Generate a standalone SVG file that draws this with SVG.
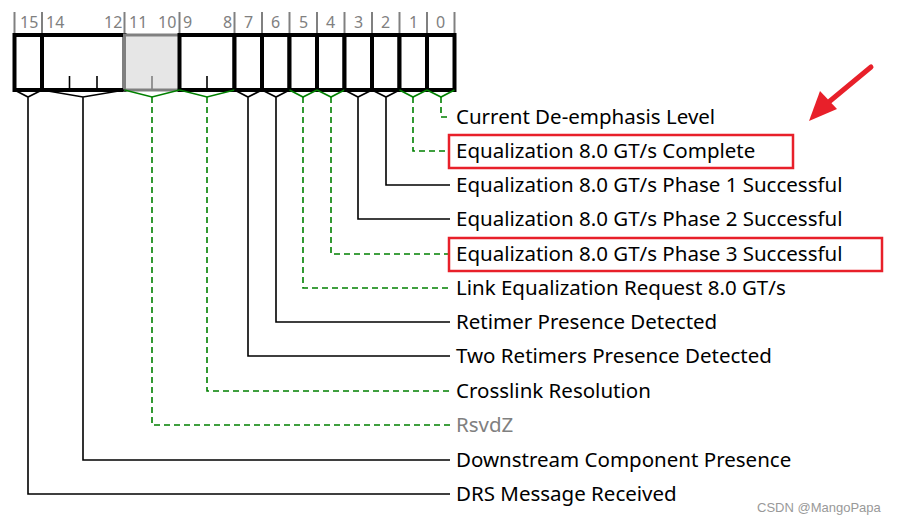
<svg xmlns="http://www.w3.org/2000/svg" width="902" height="525" viewBox="0 0 902 525">
<style>
text{font-family:"Noto Sans","Liberation Sans",sans-serif}
.n{font-size:16px;fill:#808080}
.l{font-size:20.5px;fill:#000}
.tk{stroke:#808080;stroke-width:2}
.b{fill:#fff;stroke:#000;stroke-width:4}
.k{stroke:#000;stroke-width:1.6;fill:none}
.g{stroke:#008000;stroke-width:1.6;fill:none}
.gd{stroke:#008000;stroke-width:1.6;fill:none;stroke-dasharray:6,4}
.r{fill:none;stroke:#e8202a;stroke-width:2.5}
</style>
<g id="ruler">
<g class="tk">
<line x1="14.5" y1="12" x2="14.5" y2="35"/><line x1="42" y1="12" x2="42" y2="35"/><line x1="124.5" y1="12" x2="124.5" y2="35"/><line x1="179.5" y1="12" x2="179.5" y2="35"/><line x1="234.5" y1="12" x2="234.5" y2="35"/><line x1="262" y1="12" x2="262" y2="35"/><line x1="289.5" y1="12" x2="289.5" y2="35"/><line x1="317" y1="12" x2="317" y2="35"/><line x1="344.5" y1="12" x2="344.5" y2="35"/><line x1="372" y1="12" x2="372" y2="35"/><line x1="399.5" y1="12" x2="399.5" y2="35"/><line x1="427" y1="12" x2="427" y2="35"/><line x1="454.5" y1="12" x2="454.5" y2="35"/>
</g>
<text class="n" x="20" y="28">15</text><text class="n" x="46" y="28">14</text><text class="n" x="104" y="28">12</text>
<text class="n" x="129" y="28">11</text><text class="n" x="158" y="28">10</text>
<text class="n" x="183" y="28">9</text><text class="n" x="223" y="28">8</text>
<text class="n" x="244" y="28">7</text><text class="n" x="271" y="28">6</text><text class="n" x="299" y="28">5</text><text class="n" x="326" y="28">4</text><text class="n" x="354" y="28">3</text><text class="n" x="381" y="28">2</text><text class="n" x="409" y="28">1</text><text class="n" x="436" y="28">0</text>
</g>
<g id="register">
<rect class="b" x="14.5" y="35" width="27.5" height="55"/>
<rect class="b" x="42" y="35" width="82.5" height="55"/>
<rect x="124.5" y="35" width="55" height="55" fill="#e6e6e6" stroke="#808080" stroke-width="3"/>
<rect class="b" x="179.5" y="35" width="55" height="55"/>
<rect class="b" x="234.5" y="35" width="27.5" height="55"/><rect class="b" x="262" y="35" width="27.5" height="55"/><rect class="b" x="289.5" y="35" width="27.5" height="55"/><rect class="b" x="317" y="35" width="27.5" height="55"/><rect class="b" x="344.5" y="35" width="27.5" height="55"/><rect class="b" x="372" y="35" width="27.5" height="55"/><rect class="b" x="399.5" y="35" width="27.5" height="55"/><rect class="b" x="427" y="35" width="27.5" height="55"/>
<line x1="69.5" y1="76" x2="69.5" y2="90" stroke="#000" stroke-width="1.6"/>
<line x1="97" y1="76" x2="97" y2="90" stroke="#000" stroke-width="1.6"/>
<line x1="152" y1="76" x2="152" y2="90" stroke="#808080" stroke-width="1.6"/>
<line x1="207" y1="76" x2="207" y2="90" stroke="#000" stroke-width="1.6"/>
</g>
<g id="connectors">
<path class="k" d="M14.5 90 L28 97 L42 90 M28 97 V494 H450"/>
<path class="k" d="M42 90 L83 97 L124.5 90 M83 97 V460 H450"/>
<path class="g" d="M124.5 90 L152 97 L179.5 90"/><path class="gd" d="M152 97 V425 H450"/>
<path class="g" d="M179.5 90 L207 97 L234.5 90"/><path class="gd" d="M207 97 V391 H450"/>
<path class="k" d="M234.5 90 L248 97 L262 90 M248 97 V356 H450"/>
<path class="k" d="M262 90 L276 97 L289.5 90 M276 97 V322 H450"/>
<path class="g" d="M289.5 90 L303 97 L317 90"/><path class="gd" d="M303 97 V288 H450"/>
<path class="g" d="M317 90 L331 97 L344.5 90"/><path class="gd" d="M331 97 V254 H450"/>
<path class="k" d="M344.5 90 L358 97 L372 90 M358 97 V219 H450"/>
<path class="k" d="M372 90 L386 97 L399.5 90 M386 97 V185 H450"/>
<path class="g" d="M399.5 90 L413 97 L427 90"/><path class="gd" d="M413 97 V151 H450"/>
<path class="g" d="M427 90 L441 97 L454.5 90"/><path class="gd" d="M441 97 V117 H450"/>
</g>
<g id="labels">
<text class="l" x="456" y="124">Current De-emphasis Level</text>
<text class="l" x="456" y="158">Equalization 8.0 GT/s Complete</text>
<text class="l" x="456" y="192">Equalization 8.0 GT/s Phase 1 Successful</text>
<text class="l" x="456" y="226">Equalization 8.0 GT/s Phase 2 Successful</text>
<text class="l" x="456" y="261">Equalization 8.0 GT/s Phase 3 Successful</text>
<text class="l" x="456" y="295">Link Equalization Request 8.0 GT/s</text>
<text class="l" x="456" y="329">Retimer Presence Detected</text>
<text class="l" x="456" y="363">Two Retimers Presence Detected</text>
<text class="l" x="456" y="398">Crosslink Resolution</text>
<text class="l" x="456" y="432" fill="#808080" style="fill:#808080">RsvdZ</text>
<text class="l" x="456" y="467">Downstream Component Presence</text>
<text class="l" x="456" y="501">DRS Message Received</text>
</g>
<g id="highlights">
<rect class="r" x="449" y="135" width="344" height="33"/>
<rect class="r" x="449" y="238" width="433" height="33"/>
<line x1="871" y1="67" x2="830" y2="101" stroke="#e8202a" stroke-width="5" stroke-linecap="round"/>
<polygon points="809,121 820,91 837,109" fill="#e8202a"/>
</g>
<text x="757" y="512" font-size="13" fill="#999" style="font-family:'Liberation Sans',sans-serif">CSDN @MangoPapa</text>
</svg>
